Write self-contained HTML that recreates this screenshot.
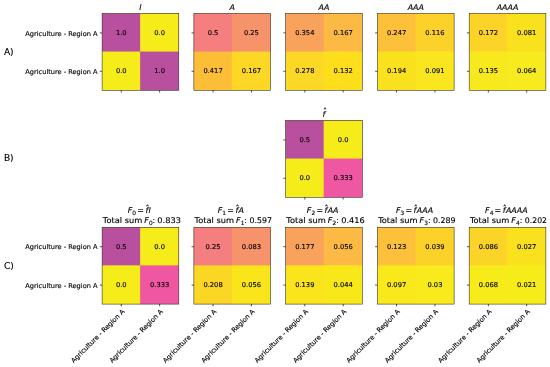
<!DOCTYPE html>
<html><head><meta charset="utf-8"><title>figure</title>
<style>
html,body{margin:0;padding:0;background:#fff;}
svg{display:block}
text{font-family:"DejaVu Sans","Liberation Sans",sans-serif;fill:#000;stroke:#000;stroke-width:0.14px;}
</style></head><body>
<svg width="550" height="367" viewBox="0 0 550 367">
<rect width="550" height="367" fill="#fff"/>
<defs><linearGradient id="g1a" x1="0" x2="1" y1="0" y2="0"><stop offset="0.4896" stop-color="#b9509f"/><stop offset="0.5026" stop-color="#f5ec1a"/></linearGradient><linearGradient id="g1b" x1="0" x2="1" y1="0" y2="0"><stop offset="0.4896" stop-color="#f5ec1a"/><stop offset="0.5026" stop-color="#b9509f"/></linearGradient></defs>
<rect x="102.10" y="13.50" width="76.70" height="76.80" fill="url(#g1b)"/>
<rect x="102.10" y="13.50" width="76.70" height="38.05" fill="url(#g1a)"/>
<rect x="102.10" y="13.50" width="76.70" height="76.80" fill="none" stroke="#262626" stroke-width="0.55"/>
<text x="121.27" y="34.92" text-anchor="middle" font-size="6.72">1.0</text>
<text x="159.62" y="34.92" text-anchor="middle" font-size="6.72">0.0</text>
<text x="121.27" y="73.27" text-anchor="middle" font-size="6.72">0.0</text>
<text x="159.62" y="73.27" text-anchor="middle" font-size="6.72">1.0</text>
<line x1="121.27" y1="90.20" x2="121.27" y2="92.50" stroke="#1a1a1a" stroke-width="0.75"/>
 <line x1="99.80" y1="32.92" x2="102.10" y2="32.92" stroke="#1a1a1a" stroke-width="0.75"/>
<text x="97.50" y="35.52" text-anchor="end" font-size="6.61">Agriculture - Region A</text>
<line x1="159.62" y1="90.20" x2="159.62" y2="92.50" stroke="#1a1a1a" stroke-width="0.75"/>
 <line x1="99.80" y1="71.28" x2="102.10" y2="71.28" stroke="#1a1a1a" stroke-width="0.75"/>
<text x="97.50" y="73.87" text-anchor="end" font-size="6.61">Agriculture - Region A</text>
<text x="140.45" y="9.50" text-anchor="middle" font-size="7.93" font-style="italic">I</text>
<defs><linearGradient id="g2a" x1="0" x2="1" y1="0" y2="0"><stop offset="0.4896" stop-color="#f57e7e"/><stop offset="0.5026" stop-color="#f6936a"/></linearGradient><linearGradient id="g2b" x1="0" x2="1" y1="0" y2="0"><stop offset="0.4896" stop-color="#fdbe37"/><stop offset="0.5026" stop-color="#fcd726"/></linearGradient></defs>
<rect x="193.87" y="13.50" width="76.70" height="76.80" fill="url(#g2b)"/>
<rect x="193.87" y="13.50" width="76.70" height="38.05" fill="url(#g2a)"/>
<rect x="193.87" y="13.50" width="76.70" height="76.80" fill="none" stroke="#262626" stroke-width="0.55"/>
<text x="213.05" y="34.92" text-anchor="middle" font-size="6.72">0.5</text>
<text x="251.40" y="34.92" text-anchor="middle" font-size="6.72">0.25</text>
<text x="213.05" y="73.27" text-anchor="middle" font-size="6.72">0.417</text>
<text x="251.40" y="73.27" text-anchor="middle" font-size="6.72">0.167</text>
<line x1="213.05" y1="90.20" x2="213.05" y2="92.50" stroke="#1a1a1a" stroke-width="0.75"/>
 <line x1="191.57" y1="32.92" x2="193.87" y2="32.92" stroke="#1a1a1a" stroke-width="0.75"/>
<line x1="251.40" y1="90.20" x2="251.40" y2="92.50" stroke="#1a1a1a" stroke-width="0.75"/>
 <line x1="191.57" y1="71.28" x2="193.87" y2="71.28" stroke="#1a1a1a" stroke-width="0.75"/>
<text x="232.22" y="9.50" text-anchor="middle" font-size="7.93" font-style="italic">A</text>
<defs><linearGradient id="g3a" x1="0" x2="1" y1="0" y2="0"><stop offset="0.4896" stop-color="#f9a25b"/><stop offset="0.5026" stop-color="#fcba45"/></linearGradient><linearGradient id="g3b" x1="0" x2="1" y1="0" y2="0"><stop offset="0.4896" stop-color="#fcd826"/><stop offset="0.5026" stop-color="#fcde1c"/></linearGradient></defs>
<rect x="285.64" y="13.50" width="76.70" height="76.80" fill="url(#g3b)"/>
<rect x="285.64" y="13.50" width="76.70" height="38.05" fill="url(#g3a)"/>
<rect x="285.64" y="13.50" width="76.70" height="76.80" fill="none" stroke="#262626" stroke-width="0.55"/>
<text x="304.81" y="34.92" text-anchor="middle" font-size="6.72">0.354</text>
<text x="343.17" y="34.92" text-anchor="middle" font-size="6.72">0.167</text>
<text x="304.81" y="73.27" text-anchor="middle" font-size="6.72">0.278</text>
<text x="343.17" y="73.27" text-anchor="middle" font-size="6.72">0.132</text>
<line x1="304.81" y1="90.20" x2="304.81" y2="92.50" stroke="#1a1a1a" stroke-width="0.75"/>
 <line x1="283.34" y1="32.92" x2="285.64" y2="32.92" stroke="#1a1a1a" stroke-width="0.75"/>
<line x1="343.17" y1="90.20" x2="343.17" y2="92.50" stroke="#1a1a1a" stroke-width="0.75"/>
 <line x1="283.34" y1="71.28" x2="285.64" y2="71.28" stroke="#1a1a1a" stroke-width="0.75"/>
<text x="323.99" y="9.50" text-anchor="middle" font-size="7.93" font-style="italic">AA</text>
<defs><linearGradient id="g4a" x1="0" x2="1" y1="0" y2="0"><stop offset="0.4896" stop-color="#fdc03a"/><stop offset="0.5026" stop-color="#fcd22a"/></linearGradient><linearGradient id="g4b" x1="0" x2="1" y1="0" y2="0"><stop offset="0.4896" stop-color="#fae11e"/><stop offset="0.5026" stop-color="#f9e61e"/></linearGradient></defs>
<rect x="377.41" y="13.50" width="76.70" height="76.80" fill="url(#g4b)"/>
<rect x="377.41" y="13.50" width="76.70" height="38.05" fill="url(#g4a)"/>
<rect x="377.41" y="13.50" width="76.70" height="76.80" fill="none" stroke="#262626" stroke-width="0.55"/>
<text x="396.58" y="34.92" text-anchor="middle" font-size="6.72">0.247</text>
<text x="434.94" y="34.92" text-anchor="middle" font-size="6.72">0.116</text>
<text x="396.58" y="73.27" text-anchor="middle" font-size="6.72">0.194</text>
<text x="434.94" y="73.27" text-anchor="middle" font-size="6.72">0.091</text>
<line x1="396.58" y1="90.20" x2="396.58" y2="92.50" stroke="#1a1a1a" stroke-width="0.75"/>
 <line x1="375.11" y1="32.92" x2="377.41" y2="32.92" stroke="#1a1a1a" stroke-width="0.75"/>
<line x1="434.94" y1="90.20" x2="434.94" y2="92.50" stroke="#1a1a1a" stroke-width="0.75"/>
 <line x1="375.11" y1="71.28" x2="377.41" y2="71.28" stroke="#1a1a1a" stroke-width="0.75"/>
<text x="415.76" y="9.50" text-anchor="middle" font-size="7.93" font-style="italic">AAA</text>
<defs><linearGradient id="g5a" x1="0" x2="1" y1="0" y2="0"><stop offset="0.4896" stop-color="#fcd428"/><stop offset="0.5026" stop-color="#fae11e"/></linearGradient><linearGradient id="g5b" x1="0" x2="1" y1="0" y2="0"><stop offset="0.4896" stop-color="#f8e81e"/><stop offset="0.5026" stop-color="#f7ea1e"/></linearGradient></defs>
<rect x="469.18" y="13.50" width="76.70" height="76.80" fill="url(#g5b)"/>
<rect x="469.18" y="13.50" width="76.70" height="38.05" fill="url(#g5a)"/>
<rect x="469.18" y="13.50" width="76.70" height="76.80" fill="none" stroke="#262626" stroke-width="0.55"/>
<text x="488.35" y="34.92" text-anchor="middle" font-size="6.72">0.172</text>
<text x="526.70" y="34.92" text-anchor="middle" font-size="6.72">0.081</text>
<text x="488.35" y="73.27" text-anchor="middle" font-size="6.72">0.135</text>
<text x="526.70" y="73.27" text-anchor="middle" font-size="6.72">0.064</text>
<line x1="488.35" y1="90.20" x2="488.35" y2="92.50" stroke="#1a1a1a" stroke-width="0.75"/>
 <line x1="466.88" y1="32.92" x2="469.18" y2="32.92" stroke="#1a1a1a" stroke-width="0.75"/>
<line x1="526.70" y1="90.20" x2="526.70" y2="92.50" stroke="#1a1a1a" stroke-width="0.75"/>
 <line x1="466.88" y1="71.28" x2="469.18" y2="71.28" stroke="#1a1a1a" stroke-width="0.75"/>
<text x="507.53" y="9.50" text-anchor="middle" font-size="7.93" font-style="italic">AAAA</text>
<defs><linearGradient id="g6a" x1="0" x2="1" y1="0" y2="0"><stop offset="0.4896" stop-color="#b9509f"/><stop offset="0.5026" stop-color="#f5ec1a"/></linearGradient><linearGradient id="g6b" x1="0" x2="1" y1="0" y2="0"><stop offset="0.4896" stop-color="#f5ec1a"/><stop offset="0.5026" stop-color="#f057a3"/></linearGradient></defs>
<rect x="285.64" y="120.50" width="76.70" height="76.80" fill="url(#g6b)"/>
<rect x="285.64" y="120.50" width="76.70" height="38.05" fill="url(#g6a)"/>
<rect x="285.64" y="120.50" width="76.70" height="76.80" fill="none" stroke="#262626" stroke-width="0.55"/>
<text x="304.81" y="141.92" text-anchor="middle" font-size="6.72">0.5</text>
<text x="343.17" y="141.92" text-anchor="middle" font-size="6.72">0.0</text>
<text x="304.81" y="180.27" text-anchor="middle" font-size="6.72">0.0</text>
<text x="343.17" y="180.27" text-anchor="middle" font-size="6.72">0.333</text>
<line x1="304.81" y1="197.20" x2="304.81" y2="199.50" stroke="#1a1a1a" stroke-width="0.75"/>
 <line x1="283.34" y1="139.93" x2="285.64" y2="139.93" stroke="#1a1a1a" stroke-width="0.75"/>
<line x1="343.17" y1="197.20" x2="343.17" y2="199.50" stroke="#1a1a1a" stroke-width="0.75"/>
 <line x1="283.34" y1="178.28" x2="285.64" y2="178.28" stroke="#1a1a1a" stroke-width="0.75"/>
<text x="323.99" y="116.50" text-anchor="middle" font-size="7.93" font-style="italic">f</text>
<text x="324.89" y="114.30" text-anchor="middle" font-size="7.93">ˆ</text>
<defs><linearGradient id="g7a" x1="0" x2="1" y1="0" y2="0"><stop offset="0.4896" stop-color="#b9509f"/><stop offset="0.5026" stop-color="#f5ec1a"/></linearGradient><linearGradient id="g7b" x1="0" x2="1" y1="0" y2="0"><stop offset="0.4896" stop-color="#f5ec1a"/><stop offset="0.5026" stop-color="#f057a3"/></linearGradient></defs>
<rect x="102.10" y="227.30" width="76.70" height="76.80" fill="url(#g7b)"/>
<rect x="102.10" y="227.30" width="76.70" height="38.05" fill="url(#g7a)"/>
<rect x="102.10" y="227.30" width="76.70" height="76.80" fill="none" stroke="#262626" stroke-width="0.55"/>
<text x="121.27" y="248.72" text-anchor="middle" font-size="6.72">0.5</text>
<text x="159.62" y="248.72" text-anchor="middle" font-size="6.72">0.0</text>
<text x="121.27" y="287.07" text-anchor="middle" font-size="6.72">0.0</text>
<text x="159.62" y="287.07" text-anchor="middle" font-size="6.72">0.333</text>
<line x1="121.27" y1="304.00" x2="121.27" y2="306.30" stroke="#1a1a1a" stroke-width="0.75"/>
 <line x1="99.80" y1="246.73" x2="102.10" y2="246.73" stroke="#1a1a1a" stroke-width="0.75"/>
<text x="97.50" y="249.32" text-anchor="end" font-size="6.61">Agriculture - Region A</text>
<text transform="translate(121.27,308.60) rotate(-45)" x="0" y="5.02" text-anchor="end" font-size="6.61">Agriculture - Region A</text>
<line x1="159.62" y1="304.00" x2="159.62" y2="306.30" stroke="#1a1a1a" stroke-width="0.75"/>
 <line x1="99.80" y1="285.08" x2="102.10" y2="285.08" stroke="#1a1a1a" stroke-width="0.75"/>
<text x="97.50" y="287.67" text-anchor="end" font-size="6.61">Agriculture - Region A</text>
<text transform="translate(159.62,308.60) rotate(-45)" x="0" y="5.02" text-anchor="end" font-size="6.61">Agriculture - Region A</text>
<text x="102.85" y="222.85" font-size="7.75" textLength="39.4" lengthAdjust="spacingAndGlyphs">Total sum</text>
<text x="144.20" y="222.85" font-size="7.93" font-style="italic">F</text>
<text x="148.95" y="224.55" font-size="5.87">0</text>
<text x="152.60" y="222.85" font-size="7.75">:</text>
<text x="157.35" y="222.85" font-size="7.75" textLength="23.7" lengthAdjust="spacingAndGlyphs">0.833</text>
<text x="127.75" y="213.10" font-size="7.93" font-style="italic">F</text>
<text x="132.35" y="214.80" font-size="5.87">0</text>
<text x="137.30" y="213.10" font-size="7.93">=</text>
<text x="145.40" y="213.10" font-size="7.93" font-style="italic">f</text>
<text x="147.40" y="210.80" text-anchor="middle" font-size="7.93">ˆ</text>
<text x="148.60" y="213.10" font-size="7.93" font-style="italic">I</text>
<defs><linearGradient id="g8a" x1="0" x2="1" y1="0" y2="0"><stop offset="0.4896" stop-color="#f57e7e"/><stop offset="0.5026" stop-color="#f6936a"/></linearGradient><linearGradient id="g8b" x1="0" x2="1" y1="0" y2="0"><stop offset="0.4896" stop-color="#fcd624"/><stop offset="0.5026" stop-color="#fae41c"/></linearGradient></defs>
<rect x="193.87" y="227.30" width="76.70" height="76.80" fill="url(#g8b)"/>
<rect x="193.87" y="227.30" width="76.70" height="38.05" fill="url(#g8a)"/>
<rect x="193.87" y="227.30" width="76.70" height="76.80" fill="none" stroke="#262626" stroke-width="0.55"/>
<text x="213.05" y="248.72" text-anchor="middle" font-size="6.72">0.25</text>
<text x="251.40" y="248.72" text-anchor="middle" font-size="6.72">0.083</text>
<text x="213.05" y="287.07" text-anchor="middle" font-size="6.72">0.208</text>
<text x="251.40" y="287.07" text-anchor="middle" font-size="6.72">0.056</text>
<line x1="213.05" y1="304.00" x2="213.05" y2="306.30" stroke="#1a1a1a" stroke-width="0.75"/>
 <line x1="191.57" y1="246.73" x2="193.87" y2="246.73" stroke="#1a1a1a" stroke-width="0.75"/>
<text transform="translate(213.05,308.60) rotate(-45)" x="0" y="5.02" text-anchor="end" font-size="6.61">Agriculture - Region A</text>
<line x1="251.40" y1="304.00" x2="251.40" y2="306.30" stroke="#1a1a1a" stroke-width="0.75"/>
 <line x1="191.57" y1="285.08" x2="193.87" y2="285.08" stroke="#1a1a1a" stroke-width="0.75"/>
<text transform="translate(251.40,308.60) rotate(-45)" x="0" y="5.02" text-anchor="end" font-size="6.61">Agriculture - Region A</text>
<text x="194.62" y="222.85" font-size="7.75" textLength="39.4" lengthAdjust="spacingAndGlyphs">Total sum</text>
<text x="235.97" y="222.85" font-size="7.93" font-style="italic">F</text>
<text x="240.72" y="224.55" font-size="5.87">1</text>
<text x="244.37" y="222.85" font-size="7.75">:</text>
<text x="249.52" y="222.85" font-size="7.75" textLength="22.4" lengthAdjust="spacingAndGlyphs">0.597</text>
<text x="217.75" y="213.10" font-size="7.93" font-style="italic">F</text>
<text x="222.35" y="214.80" font-size="5.87">1</text>
<text x="227.31" y="213.10" font-size="7.93">=</text>
<text x="235.41" y="213.10" font-size="7.93" font-style="italic">f</text>
<text x="237.41" y="210.80" text-anchor="middle" font-size="7.93">ˆ</text>
<text x="238.60" y="213.10" font-size="7.93" font-style="italic">A</text>
<defs><linearGradient id="g9a" x1="0" x2="1" y1="0" y2="0"><stop offset="0.4896" stop-color="#f9a25b"/><stop offset="0.5026" stop-color="#fcba45"/></linearGradient><linearGradient id="g9b" x1="0" x2="1" y1="0" y2="0"><stop offset="0.4896" stop-color="#fae41c"/><stop offset="0.5026" stop-color="#f8e81a"/></linearGradient></defs>
<rect x="285.64" y="227.30" width="76.70" height="76.80" fill="url(#g9b)"/>
<rect x="285.64" y="227.30" width="76.70" height="38.05" fill="url(#g9a)"/>
<rect x="285.64" y="227.30" width="76.70" height="76.80" fill="none" stroke="#262626" stroke-width="0.55"/>
<text x="304.81" y="248.72" text-anchor="middle" font-size="6.72">0.177</text>
<text x="343.17" y="248.72" text-anchor="middle" font-size="6.72">0.056</text>
<text x="304.81" y="287.07" text-anchor="middle" font-size="6.72">0.139</text>
<text x="343.17" y="287.07" text-anchor="middle" font-size="6.72">0.044</text>
<line x1="304.81" y1="304.00" x2="304.81" y2="306.30" stroke="#1a1a1a" stroke-width="0.75"/>
 <line x1="283.34" y1="246.73" x2="285.64" y2="246.73" stroke="#1a1a1a" stroke-width="0.75"/>
<text transform="translate(304.81,308.60) rotate(-45)" x="0" y="5.02" text-anchor="end" font-size="6.61">Agriculture - Region A</text>
<line x1="343.17" y1="304.00" x2="343.17" y2="306.30" stroke="#1a1a1a" stroke-width="0.75"/>
 <line x1="283.34" y1="285.08" x2="285.64" y2="285.08" stroke="#1a1a1a" stroke-width="0.75"/>
<text transform="translate(343.17,308.60) rotate(-45)" x="0" y="5.02" text-anchor="end" font-size="6.61">Agriculture - Region A</text>
<text x="286.39" y="222.85" font-size="7.75" textLength="39.4" lengthAdjust="spacingAndGlyphs">Total sum</text>
<text x="327.74" y="222.85" font-size="7.93" font-style="italic">F</text>
<text x="332.49" y="224.55" font-size="5.87">2</text>
<text x="336.14" y="222.85" font-size="7.75">:</text>
<text x="341.29" y="222.85" font-size="7.75" textLength="23.3" lengthAdjust="spacingAndGlyphs">0.416</text>
<text x="306.86" y="213.10" font-size="7.93" font-style="italic">F</text>
<text x="311.46" y="214.80" font-size="5.87">2</text>
<text x="316.41" y="213.10" font-size="7.93">=</text>
<text x="324.51" y="213.10" font-size="7.93" font-style="italic">f</text>
<text x="326.51" y="210.80" text-anchor="middle" font-size="7.93">ˆ</text>
<text x="327.71" y="213.10" font-size="7.93" font-style="italic">AA</text>
<defs><linearGradient id="g10a" x1="0" x2="1" y1="0" y2="0"><stop offset="0.4896" stop-color="#fdc03a"/><stop offset="0.5026" stop-color="#fcd22a"/></linearGradient><linearGradient id="g10b" x1="0" x2="1" y1="0" y2="0"><stop offset="0.4896" stop-color="#f9e81c"/><stop offset="0.5026" stop-color="#f8ea1c"/></linearGradient></defs>
<rect x="377.41" y="227.30" width="76.70" height="76.80" fill="url(#g10b)"/>
<rect x="377.41" y="227.30" width="76.70" height="38.05" fill="url(#g10a)"/>
<rect x="377.41" y="227.30" width="76.70" height="76.80" fill="none" stroke="#262626" stroke-width="0.55"/>
<text x="396.58" y="248.72" text-anchor="middle" font-size="6.72">0.123</text>
<text x="434.94" y="248.72" text-anchor="middle" font-size="6.72">0.039</text>
<text x="396.58" y="287.07" text-anchor="middle" font-size="6.72">0.097</text>
<text x="434.94" y="287.07" text-anchor="middle" font-size="6.72">0.03</text>
<line x1="396.58" y1="304.00" x2="396.58" y2="306.30" stroke="#1a1a1a" stroke-width="0.75"/>
 <line x1="375.11" y1="246.73" x2="377.41" y2="246.73" stroke="#1a1a1a" stroke-width="0.75"/>
<text transform="translate(396.58,308.60) rotate(-45)" x="0" y="5.02" text-anchor="end" font-size="6.61">Agriculture - Region A</text>
<line x1="434.94" y1="304.00" x2="434.94" y2="306.30" stroke="#1a1a1a" stroke-width="0.75"/>
 <line x1="375.11" y1="285.08" x2="377.41" y2="285.08" stroke="#1a1a1a" stroke-width="0.75"/>
<text transform="translate(434.94,308.60) rotate(-45)" x="0" y="5.02" text-anchor="end" font-size="6.61">Agriculture - Region A</text>
<text x="378.16" y="222.85" font-size="7.75" textLength="39.4" lengthAdjust="spacingAndGlyphs">Total sum</text>
<text x="419.51" y="222.85" font-size="7.93" font-style="italic">F</text>
<text x="424.26" y="224.55" font-size="5.87">3</text>
<text x="427.91" y="222.85" font-size="7.75">:</text>
<text x="432.96" y="222.85" font-size="7.75" textLength="22.6" lengthAdjust="spacingAndGlyphs">0.289</text>
<text x="395.96" y="213.10" font-size="7.93" font-style="italic">F</text>
<text x="400.56" y="214.80" font-size="5.87">3</text>
<text x="405.51" y="213.10" font-size="7.93">=</text>
<text x="413.61" y="213.10" font-size="7.93" font-style="italic">f</text>
<text x="415.61" y="210.80" text-anchor="middle" font-size="7.93">ˆ</text>
<text x="416.81" y="213.10" font-size="7.93" font-style="italic">AAA</text>
<defs><linearGradient id="g11a" x1="0" x2="1" y1="0" y2="0"><stop offset="0.4896" stop-color="#fcd428"/><stop offset="0.5026" stop-color="#fae11e"/></linearGradient><linearGradient id="g11b" x1="0" x2="1" y1="0" y2="0"><stop offset="0.4896" stop-color="#f7eb1a"/><stop offset="0.5026" stop-color="#f6ec1a"/></linearGradient></defs>
<rect x="469.18" y="227.30" width="76.70" height="76.80" fill="url(#g11b)"/>
<rect x="469.18" y="227.30" width="76.70" height="38.05" fill="url(#g11a)"/>
<rect x="469.18" y="227.30" width="76.70" height="76.80" fill="none" stroke="#262626" stroke-width="0.55"/>
<text x="488.35" y="248.72" text-anchor="middle" font-size="6.72">0.086</text>
<text x="526.70" y="248.72" text-anchor="middle" font-size="6.72">0.027</text>
<text x="488.35" y="287.07" text-anchor="middle" font-size="6.72">0.068</text>
<text x="526.70" y="287.07" text-anchor="middle" font-size="6.72">0.021</text>
<line x1="488.35" y1="304.00" x2="488.35" y2="306.30" stroke="#1a1a1a" stroke-width="0.75"/>
 <line x1="466.88" y1="246.73" x2="469.18" y2="246.73" stroke="#1a1a1a" stroke-width="0.75"/>
<text transform="translate(488.35,308.60) rotate(-45)" x="0" y="5.02" text-anchor="end" font-size="6.61">Agriculture - Region A</text>
<line x1="526.70" y1="304.00" x2="526.70" y2="306.30" stroke="#1a1a1a" stroke-width="0.75"/>
 <line x1="466.88" y1="285.08" x2="469.18" y2="285.08" stroke="#1a1a1a" stroke-width="0.75"/>
<text transform="translate(526.70,308.60) rotate(-45)" x="0" y="5.02" text-anchor="end" font-size="6.61">Agriculture - Region A</text>
<text x="469.93" y="222.85" font-size="7.75" textLength="39.4" lengthAdjust="spacingAndGlyphs">Total sum</text>
<text x="511.28" y="222.85" font-size="7.93" font-style="italic">F</text>
<text x="516.03" y="224.55" font-size="5.87">4</text>
<text x="519.68" y="222.85" font-size="7.75">:</text>
<text x="524.83" y="222.85" font-size="7.75" textLength="22.2" lengthAdjust="spacingAndGlyphs">0.202</text>
<text x="485.07" y="213.10" font-size="7.93" font-style="italic">F</text>
<text x="489.67" y="214.80" font-size="5.87">4</text>
<text x="494.62" y="213.10" font-size="7.93">=</text>
<text x="502.72" y="213.10" font-size="7.93" font-style="italic">f</text>
<text x="504.72" y="210.80" text-anchor="middle" font-size="7.93">ˆ</text>
<text x="505.92" y="213.10" font-size="7.93" font-style="italic">AAAA</text>
<text x="3.9" y="54.60" font-size="9.05">A)</text>
<text x="3.9" y="161.40" font-size="9.05">B)</text>
<text x="3.9" y="268.80" font-size="9.05">C)</text>
</svg>
</body></html>
